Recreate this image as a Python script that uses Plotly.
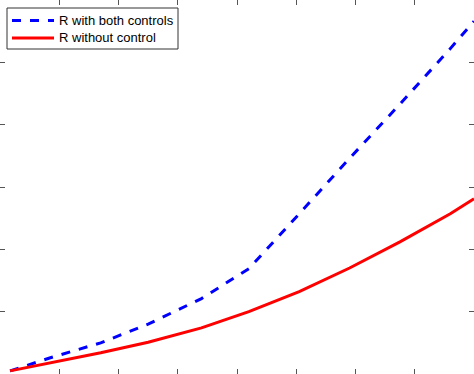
import plotly.graph_objects as go

x_vals = [0.17, 0.85, 1.7, 2.5, 3.4, 4.2, 5.05, 5.9, 6.75, 7.6, 8.0]
r_both = [0.05, 0.26, 0.50, 0.80, 1.21, 1.69, 2.57, 3.46, 4.33, 5.22, 5.66]
r_none = [0.05, 0.18, 0.34, 0.51, 0.74, 1.00, 1.32, 1.70, 2.12, 2.57, 2.81]
x_ticks = [0, 1, 2, 3, 4, 5, 6, 7, 8]
y_ticks = [0, 1, 2, 3, 4, 5, 6]
series_names = ["R with both controls", "R without control"]
series_colors = ["#0000FF", "#FF0000"]
series_dash = ["dash", "solid"]
series_axes = [("x", "y"), ("x2", "y2")]

W, H = 474, 374

fig = go.Figure()
for yv, nm, col, ds, (xa, ya) in zip([r_both, r_none], series_names, series_colors,
                                     series_dash, series_axes):
    fig.add_trace(go.Scatter(x=x_vals, y=yv, mode="lines", name=nm, showlegend=False,
                             xaxis=xa, yaxis=ya,
                             line=dict(color=col, width=3, dash=ds)))

axis_common = dict(showgrid=False, zeroline=False, showline=False, ticks="inside",
                   ticklen=5, tickwidth=1, tickcolor="#555",
                   showticklabels=False)

# legend drawn in paper coordinates (MATLAB-style box)
def px(xp):
    return xp / W

def py(yp):
    return 1 - yp / H

shapes = [dict(type="rect", xref="paper", yref="paper",
               x0=px(7), x1=px(178), y0=py(49), y1=py(8),
               line=dict(color="#333", width=1), fillcolor="white", layer="above")]
annotations = []
for i, (nm, col, ds) in enumerate(zip(series_names, series_colors, series_dash)):
    yc = 20.5 + 17.5 * i
    shapes.append(dict(type="line", xref="paper", yref="paper",
                       x0=px(12), x1=px(54), y0=py(yc), y1=py(yc),
                       line=dict(color=col, width=3, dash=ds), layer="above"))
    annotations.append(dict(text=nm, xref="paper", yref="paper", x=px(57), y=py(yc),
                            xanchor="left", yanchor="middle", showarrow=False,
                            font=dict(family="Liberation Sans, Arial, sans-serif",
                                      size=13, color="#000")))

fig.update_layout(
    width=W, height=H,
    margin=dict(l=0, r=0, t=0, b=0),
    paper_bgcolor="white", plot_bgcolor="white",
    font=dict(family="Liberation Sans, Arial, sans-serif", size=13, color="#000"),
    xaxis=dict(range=[0, 8], tickvals=x_ticks, **axis_common),
    yaxis=dict(range=[0, 6], tickvals=y_ticks, **axis_common),
    xaxis2=dict(range=[0, 8], tickvals=x_ticks, overlaying="x", side="top",
                anchor="y2", **axis_common),
    yaxis2=dict(range=[0, 6], tickvals=y_ticks, overlaying="y", side="right",
                anchor="x2", **axis_common),
    shapes=shapes, annotations=annotations,
    showlegend=False,
)
fig.write_html("out.html", config={"displayModeBar": False},
               post_script="document.body.style.margin='0';document.body.style.overflow='hidden';")
